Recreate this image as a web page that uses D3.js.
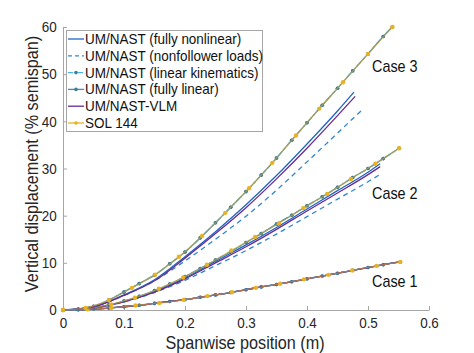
<!doctype html>
<html>
<head>
<meta charset="utf-8">
<script src="https://cdnjs.cloudflare.com/ajax/libs/d3/7.8.5/d3.min.js"></script>
<style>
  body { margin: 0; background: #fff; }
  svg { display: block; font-family: "Liberation Sans", Arial, sans-serif; }
  .axis path, .axis line { stroke: #a6a6a6; }
  .axis text { fill: #262626; font-size: 15px; }
</style>
</head>
<body>
<svg width="474" height="353"></svg>
<script>
// ---- data ----
// linear models (UM/NAST linear kinematics, fully linear) and SOL 144 overlap
var xLin3 = [0, 0.025, 0.05, 0.075, 0.1, 0.125, 0.15, 0.175, 0.2, 0.225, 0.25, 0.275, 0.3, 0.325, 0.35, 0.375, 0.4, 0.425, 0.45, 0.475, 0.5, 0.525, 0.54];
var yLin3 = [0, 0.2, 0.8, 2.1, 3.8, 5.6, 7.4, 9.8, 12.3, 15.3, 18.5, 21.8, 25.1, 28.6, 32.2, 36.0, 39.7, 43.4, 47.0, 50.7, 54.3, 58.0, 60.0];
var xLin2 = [0, 0.025, 0.05, 0.075, 0.1, 0.125, 0.15, 0.175, 0.2, 0.225, 0.25, 0.275, 0.3, 0.325, 0.35, 0.375, 0.4, 0.425, 0.45, 0.475, 0.5, 0.525, 0.551];
var yLin2 = [0, 0.1, 0.5, 1.1, 1.9, 2.9, 4.1, 5.5, 7.1, 8.8, 10.6, 12.4, 14.3, 16.2, 18.2, 20.1, 22.1, 24.0, 26.0, 28.1, 30.0, 32.1, 34.3];
var xLin1 = [0, 0.025, 0.05, 0.075, 0.1, 0.125, 0.15, 0.175, 0.2, 0.225, 0.25, 0.275, 0.3, 0.325, 0.35, 0.375, 0.4, 0.425, 0.45, 0.475, 0.5, 0.525, 0.553];
var yLin1 = [0, 0.05, 0.2, 0.4, 0.7, 1.0, 1.4, 1.8, 2.2, 2.7, 3.2, 3.7, 4.3, 4.9, 5.4, 6.0, 6.6, 7.2, 7.8, 8.4, 9.0, 9.6, 10.2];

// SOL 144 nodes
var xSol3 = [0, 0.037, 0.075, 0.113, 0.151, 0.19, 0.228, 0.266, 0.305, 0.343, 0.382, 0.42, 0.459, 0.5, 0.54];
var ySol3 = [0, 0.45, 2.1, 4.7, 7.5, 11.3, 15.7, 20.6, 25.8, 31.2, 37.0, 42.7, 48.3, 54.3, 60.0];
var xSol2 = [0, 0.039, 0.079, 0.118, 0.157, 0.197, 0.236, 0.276, 0.315, 0.354, 0.394, 0.433, 0.472, 0.512, 0.551];
var ySol2 = [0, 0.3, 1.2, 2.6, 4.5, 6.9, 9.6, 12.6, 15.5, 18.4, 21.6, 24.6, 27.8, 31.0, 34.3];
var xSol1 = [0, 0.04, 0.079, 0.119, 0.158, 0.198, 0.237, 0.277, 0.316, 0.356, 0.395, 0.435, 0.474, 0.514, 0.553];
var ySol1 = [0, 0.15, 0.45, 0.95, 1.5, 2.15, 2.95, 3.75, 4.7, 5.55, 6.5, 7.45, 8.4, 9.35, 10.2];

// nonlinear models
var xNl3 = [0, 0.05, 0.1, 0.15, 0.2, 0.25, 0.3, 0.35, 0.4, 0.45, 0.477];
var yNl3 = [0, 0.7, 3.2, 6.4, 11.3, 16.6, 22.3, 28.5, 35.2, 42.2, 46.2];
var xVlm3 = [0, 0.05, 0.1, 0.15, 0.2, 0.25, 0.3, 0.35, 0.4, 0.45, 0.479];
var yVlm3 = [0, 0.7, 3.1, 6.2, 11.0, 16.2, 21.7, 27.8, 34.3, 41.2, 45.3];
var xNf3 = [0, 0.05, 0.1, 0.15, 0.2, 0.25, 0.3, 0.35, 0.4, 0.45, 0.49];
var yNf3 = [0, 0.7, 3.1, 6.2, 10.4, 15.0, 19.9, 25.4, 31.4, 37.5, 42.4];

var xNl2 = [0, 0.05, 0.1, 0.15, 0.2, 0.25, 0.3, 0.35, 0.4, 0.45, 0.5, 0.52];
var yNl2 = [0, 0.45, 1.8, 3.9, 6.8, 10.3, 13.8, 17.5, 21.4, 25.3, 29.2, 31.0];
var xVlm2 = [0, 0.05, 0.1, 0.15, 0.2, 0.25, 0.3, 0.35, 0.4, 0.45, 0.5, 0.52];
var yVlm2 = [0, 0.45, 1.8, 3.8, 6.6, 10.0, 13.4, 17.1, 21.0, 24.8, 28.7, 30.4];
var xNf2 = [0, 0.05, 0.1, 0.15, 0.2, 0.25, 0.3, 0.35, 0.4, 0.45, 0.5, 0.523];
var yNf2 = [0, 0.4, 1.7, 3.7, 6.3, 9.4, 12.6, 16.1, 19.8, 23.5, 27.2, 29.0];

var xTicks = [0, 0.1, 0.2, 0.3, 0.4, 0.5, 0.6];
var yTicks = [0, 10, 20, 30, 40, 50, 60];
var caseLabels = ["Case 1", "Case 2", "Case 3"];
var caseLabelY = [4.9, 23.5, 50.5];

var legendNames = ["UM/NAST (fully nonlinear)", "UM/NAST (nonfollower loads)", "UM/NAST (linear kinematics)",
  "UM/NAST (fully linear)", "UM/NAST-VLM", "SOL 144"];

function pts(xs, ys) { return xs.map(function (x, i) { return [x, ys[i]]; }); }

// ---- styles ----
var sty = [
  { color: "#1f66c0", dash: null, marker: false, op: 1 },
  { color: "#2f86cf", dash: "5,4", marker: false, op: 1 },
  { color: "#4db3e0", dash: "7,3,2,3", marker: true, op: 1 },
  { color: "#4a8aa8", dash: null, marker: true, op: 1 },
  { color: "#6a2a92", dash: null, marker: false, op: 1 },
  { color: "#e8b223", dash: null, marker: true, op: 0.55 }
];

var series = [
  // case 1 (all models coincide)
  { s: 0, d: pts(xLin1, yLin1) }, { s: 1, d: pts(xLin1, yLin1) },
  { s: 2, d: pts(xLin1, yLin1) }, { s: 3, d: pts(xLin1, yLin1) },
  { s: 4, d: pts(xLin1, yLin1) }, { s: 5, d: pts(xSol1, ySol1) },
  // case 2
  { s: 0, d: pts(xNl2, yNl2) }, { s: 1, d: pts(xNf2, yNf2) },
  { s: 2, d: pts(xLin2, yLin2) }, { s: 3, d: pts(xLin2, yLin2) },
  { s: 4, d: pts(xVlm2, yVlm2) }, { s: 5, d: pts(xSol2, ySol2) },
  // case 3
  { s: 0, d: pts(xNl3, yNl3) }, { s: 1, d: pts(xNf3, yNf3) },
  { s: 2, d: pts(xLin3, yLin3) }, { s: 3, d: pts(xLin3, yLin3) },
  { s: 4, d: pts(xVlm3, yVlm3) }, { s: 5, d: pts(xSol3, ySol3) }
];

var svg = d3.select("svg");
var x = d3.scaleLinear().domain([0, 0.6]).range([63, 429]);
var y = d3.scaleLinear().domain([0, 60]).range([310, 27]);

// axes, ticks pointing inward like matlab
var gx = svg.append("g").attr("class", "axis").attr("transform", "translate(0,310)")
  .call(d3.axisBottom(x).tickValues(xTicks).tickFormat(d3.format("")).tickSize(-4).tickSizeOuter(0).tickPadding(14));
gx.selectAll("text").attr("transform", "scale(0.9,1)").attr("y", 7).attr("dy", "0.71em");

var gy = svg.append("g").attr("class", "axis").attr("transform", "translate(63,0)")
  .call(d3.axisLeft(y).tickValues(yTicks).tickSize(-4).tickSizeOuter(0).tickPadding(6));
gy.selectAll("text").attr("transform", "scale(0.9,1)").attr("x", -7);

var line = d3.line().x(function (d) { return x(d[0]); }).y(function (d) { return y(d[1]); })
  .curve(d3.curveMonotoneX);

var plot = svg.append("g");
series.forEach(function (ser) {
  var st = sty[ser.s];
  plot.append("path").attr("d", line(ser.d))
    .attr("fill", "none").attr("stroke", st.color).attr("stroke-width", 1.3)
    .attr("stroke-opacity", st.op)
    .attr("stroke-dasharray", st.dash);
  if (st.marker) {
    plot.selectAll(null).data(ser.d).enter().append("circle")
      .attr("cx", function (d) { return x(d[0]); })
      .attr("cy", function (d) { return y(d[1]); })
      .attr("r", ser.s == 5 ? 2.2 : 1.8)
      .attr("fill", ser.s == 5 ? "#e8b223" : "#3f7b96");
  }
});

// case labels
caseLabels.forEach(function (c, i) {
  svg.append("text").attr("transform", "translate(372," + y(caseLabelY[i]) + ") scale(0.9,1)")
    .attr("font-size", 16).attr("fill", "#111").text(c);
});

// axis titles
svg.append("text").attr("transform", "translate(245,349) scale(0.9,1)")
  .attr("text-anchor", "middle").attr("font-size", 18).attr("fill", "#262626")
  .text("Spanwise position (m)");
svg.append("text").attr("transform", "translate(38,164) rotate(-90) scale(0.9,1)")
  .attr("text-anchor", "middle").attr("font-size", 18).attr("fill", "#262626")
  .text("Vertical displacement (% semispan)");

// legend
var lg = svg.append("g");
lg.append("rect").attr("x", 66.5).attr("y", 30.5).attr("width", 196).attr("height", 101)
  .attr("fill", "#fff").attr("stroke", "#a6a6a6");
legendNames.forEach(function (n, i) {
  var st = sty[i], ly = 39 + i * 16.8;
  lg.append("line").attr("x1", 68).attr("x2", 84).attr("y1", ly).attr("y2", ly)
    .attr("stroke", st.color).attr("stroke-width", 1.3)
    .attr("stroke-dasharray", i == 1 ? "4,3" : (i == 2 ? "5,1.5,2,1.5" : null));
  if (st.marker) {
    lg.append("circle").attr("cx", 76).attr("cy", ly).attr("r", 1.8)
      .attr("fill", i == 5 ? "#e8b223" : "#3f7b96");
  }
  lg.append("text").attr("transform", "translate(85," + (ly + 5) + ") scale(0.9,1)")
    .attr("font-size", 15).attr("fill", "#111").text(n);
});
</script>
</body>
</html>
